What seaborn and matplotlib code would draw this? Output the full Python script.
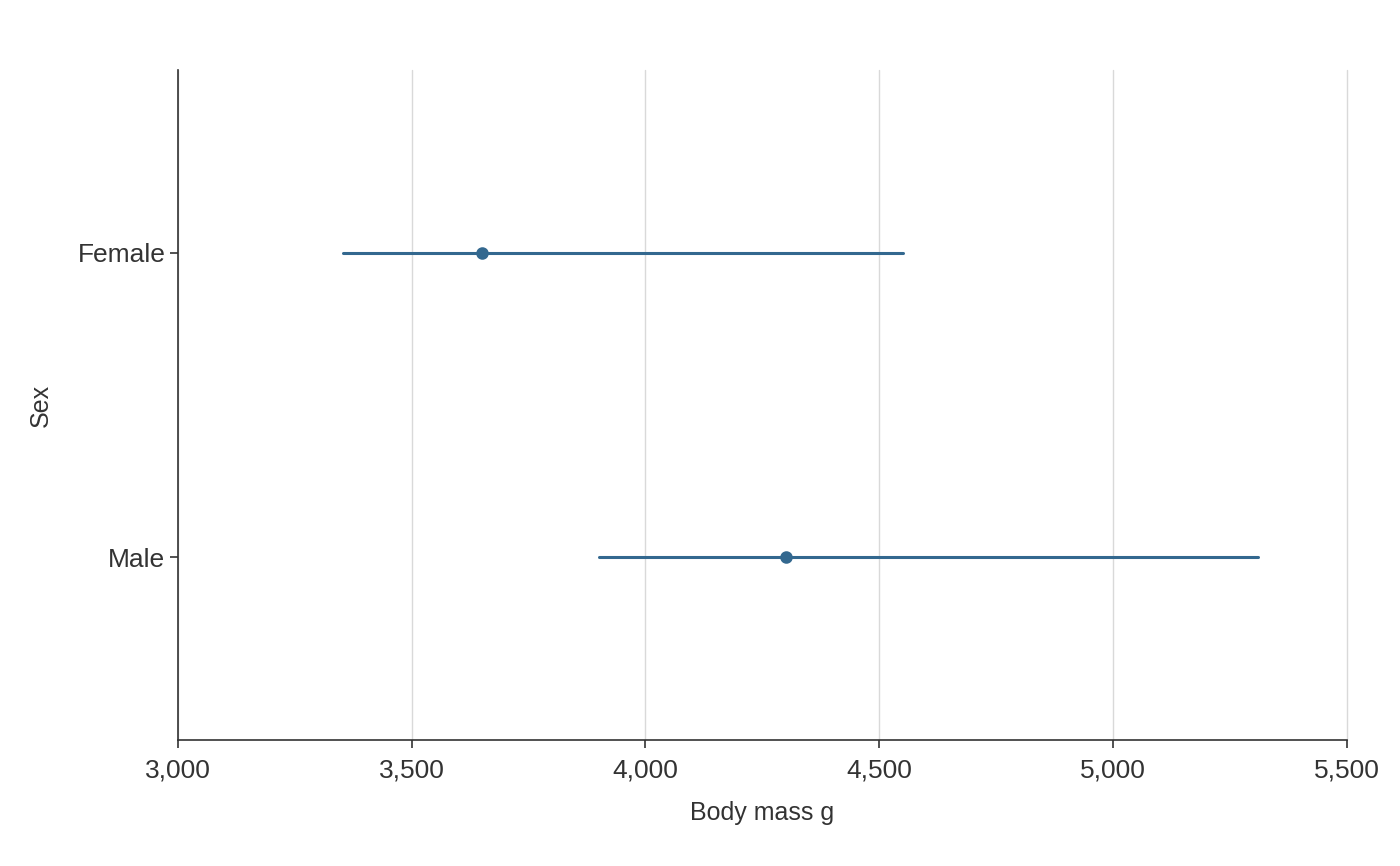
import pandas as pd
import matplotlib.pyplot as plt
import matplotlib.ticker as mticker
import seaborn as sns

# --- Dados ---
sexes = ["Female", "Male"]
mass_low = [3353, 3900]
mass_mid = [3650, 4300]
mass_high = [4550, 5310]

rows = []
for s, lo, mid, hi in zip(sexes, mass_low, mass_mid, mass_high):
    for v in (lo, mid, hi):
        rows.append({"Sex": s, "Body mass g": v})
df = pd.DataFrame(rows)

sns.set_theme(style="white")
plt.rcParams['font.family'] = ['Liberation Sans', 'DejaVu Sans']
text_color = "#333333"
line_color = "#33688f"

fig = plt.figure(figsize=(14, 8.66), dpi=100)
ax = fig.add_axes([0.127, 0.1455, 0.835, 0.7735])

sns.pointplot(data=df, x="Body mass g", y="Sex", order=sexes,
              estimator="median", errorbar=("pi", 100),
              color=line_color, linestyle="none", markersize=7,
              err_kws={"linewidth": 2.2}, ax=ax)

ax.set_xlim(3000, 5500)
ax.set_ylim(1.6, -0.6)
ax.xaxis.set_major_locator(mticker.MultipleLocator(500))
ax.xaxis.set_major_formatter(mticker.FuncFormatter(lambda v, p: f"{v:,.0f}"))
ax.grid(axis="x", color="#d9d9d9", linewidth=1)
ax.grid(axis="y", visible=False)
for gl in ax.get_xgridlines():
    gl.set_clip_on(False)
ax.set_axisbelow(True)

for side in ["top", "right"]:
    ax.spines[side].set_visible(False)
for side in ["left", "bottom"]:
    ax.spines[side].set_color(text_color)
    ax.spines[side].set_linewidth(1.2)

ax.tick_params(axis="both", which="major", length=6, width=1.2, color=text_color,
               labelsize=19, labelcolor=text_color, bottom=True, left=True)
ax.tick_params(axis="x", pad=7)
ax.tick_params(axis="y", pad=3)
ax.set_xlabel("Body mass g", fontsize=18, color=text_color, labelpad=14)
ax.set_ylabel("Sex", fontsize=18, color=text_color, labelpad=18)

fig.savefig("out.png", dpi=100)
